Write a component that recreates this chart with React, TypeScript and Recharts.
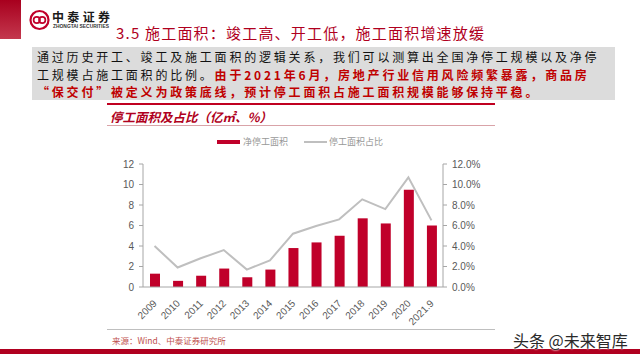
import React from 'react';
import { ComposedChart, Bar, Line, XAxis, YAxis } from 'recharts';

// 年份 / 净停工面积(亿㎡) / 停工面积占比(%)
const years = ['2009', '2010', '2011', '2012', '2013', '2014', '2015', '2016', '2017', '2018', '2019', '2020', '2021.9'];
const netStopArea = [1.3, 0.6, 1.1, 1.8, 0.95, 1.7, 3.8, 4.35, 5.0, 6.7, 6.2, 9.5, 6.0];
const stopShare = [4.0, 1.9, 2.8, 3.6, 1.7, 2.6, 5.2, 5.95, 6.6, 8.55, 7.6, 10.7, 6.5];
const leftTicks = [0, 2, 4, 6, 8, 10, 12];
const rightTicks = [0, 2, 4, 6, 8, 10, 12];

const RED = '#C0002A';
const GRAY_LINE = '#BFBFBF';
const AXIS = '#A6A6A6';
const TICK_TEXT = '#595959';
const CJK = '"Noto Sans CJK SC", "Noto Sans", sans-serif';
const LATIN = '"Liberation Sans", Arial, sans-serif';

const data = years.map((year, i) => ({
  year,
  area: netStopArea[i],
  share: stopShare[i],
}));

function YearTick({ x, y, payload }: any) {
  return (
    <text
      x={0}
      y={0}
      transform={`translate(${x + 3}, ${y + 9}) rotate(-45)`}
      textAnchor="end"
      fill={TICK_TEXT}
      fontSize={10}
      fontFamily={LATIN}
    >
      {payload.value}
    </text>
  );
}

function Logo() {
  return (
    <svg width={115} height={32} style={{ position: 'absolute', left: 0, top: 0 }}>
      <circle cx={39.5} cy={20} r={9} fill="none" stroke={RED} strokeWidth={2.2} />
      <circle cx={36.8} cy={20} r={3.2} fill="none" stroke={RED} strokeWidth={1.7} />
      <circle cx={42.2} cy={20} r={3.2} fill="none" stroke={RED} strokeWidth={1.7} />
      <text x={52} y={21.5} fontSize={12} fontWeight={700} fontFamily={CJK} fill="#1A1A1A" textLength={58} lengthAdjust="spacing">
        中泰证券
      </text>
      <text x={53} y={27.5} fontSize={4.5} fontWeight={700} fontFamily={LATIN} fill="#333" textLength={56} lengthAdjust="spacingAndGlyphs">
        ZHONGTAI SECURITIES
      </text>
    </svg>
  );
}

export default function App() {
  const red = { color: '#C00000', fontWeight: 700 } as const;
  const boxLine = { position: 'absolute', left: 5, fontSize: 12, letterSpacing: 2.8, lineHeight: '17.5px', height: 17.5, color: '#111', whiteSpace: 'nowrap' } as const;
  return (
    <div style={{ position: 'absolute', left: 0, top: 0, width: 640, height: 360, background: '#fff', overflow: 'hidden', fontFamily: CJK }}>
      <div style={{ position: 'absolute', left: 0, top: 0, width: 21, height: 39, background: 'linear-gradient(#A8001E, #C4384E)' }} />
      <Logo />
      <div style={{ position: 'absolute', left: 116, top: 23, fontSize: 15, letterSpacing: 1.2, lineHeight: '19px', color: '#B0001E', whiteSpace: 'nowrap' }}>
        3.5 施工面积：竣工高、开工低，施工面积增速放缓
      </div>

      <div style={{ position: 'absolute', left: 32, top: 47, width: 583, height: 53, background: '#DCDCDC' }}>
        <div style={{ ...boxLine, top: 1 }}>
          通过历史开工、竣工及施工面积的逻辑关系，我们可以测算出全国净停工规模以及净停
        </div>
        <div style={{ ...boxLine, top: 18.5 }}>
          工规模占施工面积的比例。<span style={red}>由于2021年6月，房地产行业信用风险频繁暴露，商品房</span>
        </div>
        <div style={{ ...boxLine, top: 36 }}>
          <span style={red}>“保交付”被定义为政策底线，预计停工面积占施工面积规模能够保持平稳。</span>
        </div>
      </div>
      <div style={{ position: 'absolute', left: 107, top: 103, width: 388, height: 2, background: '#C00020' }} />

      <div style={{ position: 'absolute', left: 110, top: 109, fontSize: 12.5, lineHeight: '15px', fontStyle: 'italic', fontWeight: 700, color: '#B00020', whiteSpace: 'nowrap' }}>
        停工面积及占比（亿㎡、%）
      </div>
      <div style={{ position: 'absolute', left: 107, top: 125, width: 388, height: 1, background: '#D9A3A8' }} />

      {/* legend */}
      <div style={{ position: 'absolute', left: 217, top: 140, width: 23, height: 4, background: RED }} />
      <div style={{ position: 'absolute', left: 243, top: 135, fontSize: 9, lineHeight: '13px', color: '#999', whiteSpace: 'nowrap' }}>净停工面积</div>
      <div style={{ position: 'absolute', left: 304, top: 141, width: 23, height: 1.5, background: GRAY_LINE }} />
      <div style={{ position: 'absolute', left: 329, top: 135, fontSize: 9, lineHeight: '13px', color: '#999', whiteSpace: 'nowrap' }}>停工面积占比</div>

      <div style={{ position: 'absolute', left: 100, top: 130 }}>
        <ComposedChart width={400} height={200} data={data} margin={{ top: 34, right: 0, bottom: 0, left: 0 }}>
          <XAxis
            dataKey="year"
            height={43}
            interval={0}
            tick={<YearTick />}
            tickLine={false}
            axisLine={{ stroke: AXIS }}
          />
          <YAxis
            yAxisId="left"
            width={43}
            domain={[0, 12]}
            ticks={leftTicks}
            tickSize={4}
            tickMargin={5}
            tickLine={{ stroke: AXIS }}
            axisLine={{ stroke: AXIS }}
            tick={{ fill: TICK_TEXT, fontSize: 10, fontFamily: LATIN }}
          />
          <YAxis
            yAxisId="right"
            orientation="right"
            width={57}
            domain={[0, 12]}
            ticks={rightTicks}
            tickFormatter={(v: number) => `${v.toFixed(1)}%`}
            tickSize={4}
            tickMargin={5}
            tickLine={{ stroke: AXIS }}
            axisLine={{ stroke: AXIS }}
            tick={{ fill: TICK_TEXT, fontSize: 10, fontFamily: LATIN }}
          />
          <Bar yAxisId="left" dataKey="area" fill={RED} barSize={10} isAnimationActive={false} />
          <Line yAxisId="right" dataKey="share" type="linear" stroke={GRAY_LINE} strokeWidth={2} dot={false} isAnimationActive={false} />
        </ComposedChart>
      </div>

      <div style={{ position: 'absolute', left: 107, top: 329, width: 388, height: 1, background: '#BFBFBF' }} />
      <div style={{ position: 'absolute', left: 112, top: 334, fontSize: 8.5, lineHeight: '12px', color: '#C0504D', whiteSpace: 'nowrap' }}>
        来源：Wind、中泰证券研究所
      </div>
      <div style={{ position: 'absolute', left: 0, top: 349, width: 640, height: 5, background: '#B00020' }} />
      <div style={{ position: 'absolute', left: 513, top: 330, fontSize: 16, lineHeight: '21px', color: '#2A2A2A', whiteSpace: 'nowrap', textShadow: '0 0 2px #fff, 0 0 2px #fff' }}>
        头条 @未来智库
      </div>
    </div>
  );
}
